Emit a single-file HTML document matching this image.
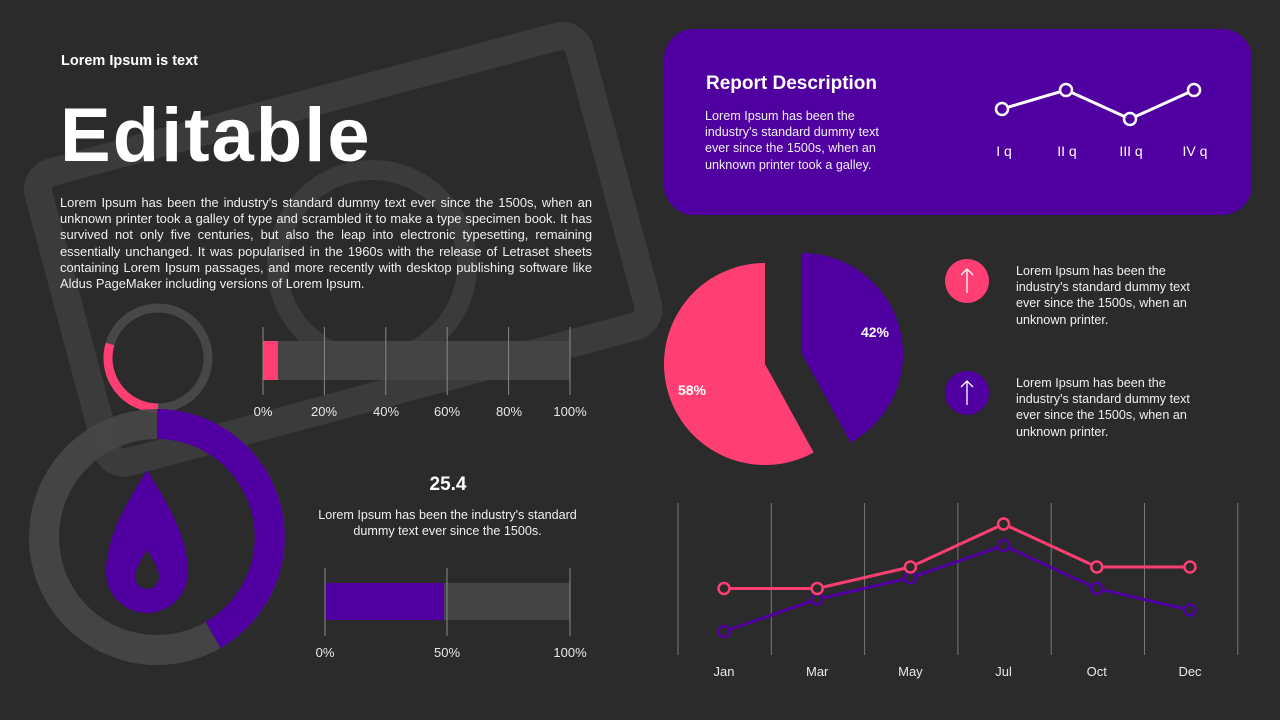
<!DOCTYPE html>
<html><head><meta charset="utf-8"><style>
html,body{margin:0;padding:0;background:#2b2b2b;}
#root{position:relative;width:1280px;height:720px;overflow:hidden;background:#2b2b2b;font-family:"Liberation Sans",sans-serif;color:#fff;}
.t{position:absolute;margin:0;}
.body{font-size:12.6px;line-height:16.2px;color:#f0f0f0;}
</style></head><body>
<div id="root">
<svg width="1280" height="720" style="position:absolute;left:0;top:0">
  <g fill="none" stroke="#3b3b3b">
    <rect x="62" y="100" width="560" height="300" rx="18" stroke-width="28" transform="rotate(-15 340 245)"/>
    <circle cx="372" cy="265" r="95" stroke-width="20"/>
  </g>
  <g>
    <circle cx="158" cy="358" r="50" fill="none" stroke="#474747" stroke-width="9"/>
    <path d="M158 408 A50 50 0 0 1 110 344" fill="none" stroke="#ff3f73" stroke-width="9"/>
  </g>
  <g>
    <circle cx="157" cy="537" r="113" fill="none" stroke="#474747" stroke-width="30" opacity="0.9"/>
    <path d="M157 424 A113 113 0 0 1 213 635" fill="none" stroke="#5000a0" stroke-width="30"/>
    <path d="M147 470 C160 492 188 532 188 572 A41 41 0 0 1 106 572 C106 532 134 492 147 470 Z" fill="#5000a0"/>
    <path d="M147 550 C151 558 159 567 159 577 A12 12 0 0 1 135 577 C135 567 143 558 147 550 Z" fill="#2b2b2b"/>
  </g>
  <g>
    <rect x="263" y="341" width="307" height="39" fill="#444"/>
    <rect x="263" y="341" width="15" height="39" fill="#ff3f73"/>
    <g stroke="#888" stroke-width="1">
      <line x1="263" y1="327" x2="263" y2="395"/><line x1="324.4" y1="327" x2="324.4" y2="395"/>
      <line x1="385.8" y1="327" x2="385.8" y2="395"/><line x1="447.2" y1="327" x2="447.2" y2="395"/>
      <line x1="508.6" y1="327" x2="508.6" y2="395"/><line x1="570" y1="327" x2="570" y2="395"/>
    </g>
    <g fill="#e8e8e8" font-size="13" text-anchor="middle">
      <text x="263" y="416">0%</text><text x="324" y="416">20%</text><text x="386" y="416">40%</text>
      <text x="447" y="416">60%</text><text x="509" y="416">80%</text><text x="570" y="416">100%</text>
    </g>
  </g>
  <g>
    <rect x="325" y="583" width="245" height="37" fill="#444"/>
    <rect x="325" y="583" width="119" height="37" fill="#5000a0"/>
    <g stroke="#888" stroke-width="1">
      <line x1="325" y1="568" x2="325" y2="636"/><line x1="447" y1="568" x2="447" y2="636"/><line x1="570" y1="568" x2="570" y2="636"/>
    </g>
    <g fill="#e8e8e8" font-size="13" text-anchor="middle">
      <text x="325" y="657">0%</text><text x="447" y="657">50%</text><text x="570" y="657">100%</text>
    </g>
  </g>
  <rect x="664" y="29" width="588" height="186" rx="30" fill="#5000a0"/>
  <g>
    <polyline points="1002,109 1066,90 1130,119 1194,90" fill="none" stroke="#fff" stroke-width="3"/>
    <g fill="#5000a0" stroke="#fff" stroke-width="2.5">
      <circle cx="1002" cy="109" r="6"/><circle cx="1066" cy="90" r="6"/><circle cx="1130" cy="119" r="6"/><circle cx="1194" cy="90" r="6"/>
    </g>
    <g fill="#fff" font-size="14" text-anchor="middle">
      <text x="1004" y="156">I q</text><text x="1067" y="156">II q</text><text x="1131" y="156">III q</text><text x="1195" y="156">IV q</text>
    </g>
  </g>
  <g>
    <path id="pinkSlice" fill="#ff3f73"/>
    <path id="purpleSlice" fill="#5000a0"/>
    <text x="875" y="337" font-size="14" font-weight="bold" fill="#fff" text-anchor="middle">42%</text>
    <text x="692" y="395" font-size="14" font-weight="bold" fill="#fff" text-anchor="middle">58%</text>
  </g>
  <g>
    <circle cx="967" cy="281" r="22" fill="#ff3f73"/>
    <path d="M967 293 V269 M961 275 L967 269 L973 275" stroke="#fff" stroke-width="1.3" fill="none"/>
  </g>
  <g>
    <circle cx="967" cy="393" r="22" fill="#5000a0"/>
    <path d="M967 405 V381 M961 387 L967 381 L973 387" stroke="#fff" stroke-width="1.3" fill="none"/>
  </g>
  <g id="lineChart"></g>
</svg>

<p class="t" style="left:61px;top:53px;font-size:14.5px;font-weight:bold;">Lorem Ipsum is text</p>
<p class="t" style="left:60px;top:92px;font-size:76px;font-weight:bold;letter-spacing:2px;">Editable</p>
<p class="t body" style="left:60px;top:195px;width:532px;text-align:justify;font-size:12.9px;">Lorem Ipsum has been the industry's standard dummy text ever since the 1500s, when an unknown printer took a galley of type and scrambled it to make a type specimen book. It has survived not only five centuries, but also the leap into electronic typesetting, remaining essentially unchanged. It was popularised in the 1960s with the release of Letraset sheets containing Lorem Ipsum passages, and more recently with desktop publishing software like Aldus PageMaker including versions of Lorem Ipsum.</p>
<p class="t" style="left:398px;top:474px;width:100px;text-align:center;font-size:19px;font-weight:bold;">25.4</p>
<p class="t body" style="left:305px;top:507px;width:285px;text-align:center;">Lorem Ipsum has been the industry's standard dummy text ever since the 1500s.</p>
<p class="t" style="left:706px;top:73px;font-size:19px;font-weight:bold;">Report Description</p>
<p class="t body" style="left:705px;top:108px;width:190px;">Lorem Ipsum has been the industry's standard dummy text ever since the 1500s, when an unknown printer took a galley.</p>
<p class="t body" style="left:1016px;top:263px;width:190px;">Lorem Ipsum has been the industry's standard dummy text ever since the 1500s, when an unknown printer.</p>
<p class="t body" style="left:1016px;top:375px;width:190px;">Lorem Ipsum has been the industry's standard dummy text ever since the 1500s, when an unknown printer.</p>

<script>
const pieLabels=["58%","42%"];
const pieValues=[58,42];
const months=["Jan","Mar","May","Jul","Oct","Dec"];
const pinkSeries=[3,3,4,6,4,4];
const purpleSeries=[1,2.5,3.5,5,3,2];

(function(){
  const r=101;
  function arc(cx,cy,a0,a1){
    const p=a=>[cx+r*Math.sin(a),cy-r*Math.cos(a)];
    const s=p(a0),e=p(a1),large=(a1-a0)>Math.PI?1:0;
    return `M${cx} ${cy} L${s[0]} ${s[1]} A${r} ${r} 0 ${large} 1 ${e[0]} ${e[1]} Z`;
  }
  const tot=pieValues[0]+pieValues[1];
  const aPurple=pieValues[1]/tot*2*Math.PI;
  document.getElementById('purpleSlice').setAttribute('d',arc(802,354,0,aPurple));
  document.getElementById('pinkSlice').setAttribute('d',arc(765,364,aPurple,2*Math.PI));

  const ns="http://www.w3.org/2000/svg";
  const g=document.getElementById('lineChart');
  const x=i=>724+i*93.2;
  const y=v=>653-v*21.5;
  for(let k=0;k<7;k++){
    const l=document.createElementNS(ns,'line');
    const gx=678+k*93.3;
    l.setAttribute('x1',gx);l.setAttribute('x2',gx);l.setAttribute('y1',503);l.setAttribute('y2',655);
    l.setAttribute('stroke','#777');l.setAttribute('stroke-width','1');
    
    
    g.appendChild(l);
  }
  function series(vals,color,name){
    const pl=document.createElementNS(ns,'polyline');
    pl.setAttribute('points',vals.map((v,i)=>x(i)+','+y(v)).join(' '));
    pl.setAttribute('fill','none');pl.setAttribute('stroke',color);pl.setAttribute('stroke-width','3');
    
    
    g.appendChild(pl);
    vals.forEach((v,i)=>{
      const c=document.createElementNS(ns,'circle');
      c.setAttribute('cx',x(i));c.setAttribute('cy',y(v));c.setAttribute('r',5.5);
      c.setAttribute('fill','#2b2b2b');c.setAttribute('stroke',color);c.setAttribute('stroke-width','2.5');
      
      
      g.appendChild(c);
    });
  }
  series(purpleSeries,'#5000a0','purple-series');
  series(pinkSeries,'#ff3f73','pink-series');
  months.forEach((m,i)=>{
    const t=document.createElementNS(ns,'text');
    t.setAttribute('x',x(i));t.setAttribute('y',676);t.setAttribute('text-anchor','middle');
    t.setAttribute('fill','#e8e8e8');t.setAttribute('font-size','13');
    t.textContent=m;
    
    
    g.appendChild(t);
  });
})();
</script>
</div>
</body></html>
